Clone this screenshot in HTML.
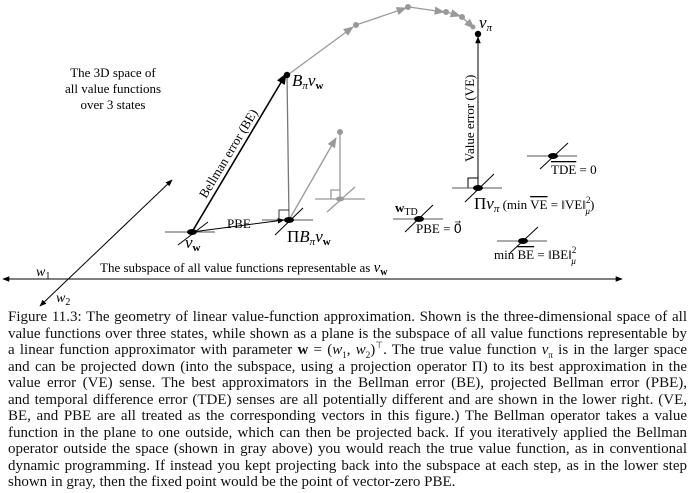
<!DOCTYPE html>
<html><head><meta charset="utf-8"><style>
body{margin:0;background:#fff;width:693px;height:493px;overflow:hidden;position:relative;font-family:"Liberation Serif",serif;}
svg{position:absolute;left:0;top:0}
.cap{position:absolute;left:8px;top:309px;width:679px;font-size:15px;color:#111;}
.cap div{height:16.5px;line-height:16.5px;white-space:nowrap;text-align:justify;text-align-last:justify;}
.cap div.l{text-align-last:left}
.cap sub,.cap sup{font-size:9px;line-height:0}
</style></head><body>
<svg width="693" height="310" viewBox="0 0 693 310" font-family="Liberation Serif, serif">
<defs>
<marker id="a" viewBox="0 0 10 10" refX="9" refY="5" markerWidth="7" markerHeight="7" orient="auto-start-reverse"><path d="M0,1 L10,5 L0,9 z" fill="#000"/></marker>
<marker id="g" viewBox="0 0 10 10" refX="9" refY="5" markerWidth="8" markerHeight="8" orient="auto"><path d="M0,1 L10,5 L0,9 z" fill="#999"/></marker>
</defs>
<line x1="3" y1="279" x2="622" y2="279" stroke="#000" marker-start="url(#a)" marker-end="url(#a)"/>
<line x1="40" y1="306" x2="172" y2="180" stroke="#000" marker-start="url(#a)" marker-end="url(#a)"/>
<text x="36" y="276" font-size="14" font-style="italic">w<tspan font-size="10" font-style="normal" dy="3">1</tspan></text>
<text x="56" y="302" font-size="14" font-style="italic">w<tspan font-size="10" font-style="normal" dy="3">2</tspan></text>
<text x="113" y="77" font-size="13" text-anchor="middle">The 3D space of</text>
<text x="113" y="93" font-size="13" text-anchor="middle">all value functions</text>
<text x="113" y="109" font-size="13" text-anchor="middle">over 3 states</text>
<text x="100" y="272" font-size="13">The subspace of all value functions representable as <tspan font-style="italic" font-size="15">v</tspan><tspan font-weight="bold" font-size="10" dy="3">w</tspan></text>
<g stroke="#999" fill="none" stroke-width="1.3">
<line x1="289" y1="74" x2="353" y2="27" marker-end="url(#g)"/>
<line x1="356" y1="25" x2="406" y2="8" marker-end="url(#g)"/>
<line x1="409" y1="7" x2="444" y2="12" marker-end="url(#g)"/>
<line x1="447" y1="12" x2="460" y2="16" marker-end="url(#g)"/>
<line x1="463" y1="18" x2="474" y2="28" marker-end="url(#g)"/>
<line x1="289" y1="220" x2="336" y2="138" marker-end="url(#g)"/>
<line x1="340" y1="132" x2="340" y2="199"/>
<path d="M331,199 V190 H340"/>
<line x1="315" y1="199" x2="365" y2="199"/>
<line x1="327" y1="212" x2="355" y2="187"/>
</g>
<g fill="#999"><circle cx="356" cy="25" r="3"/><circle cx="408" cy="7" r="3"/><circle cx="446" cy="12" r="3"/><circle cx="462" cy="17" r="3"/><circle cx="473" cy="27" r="2.5"/><circle cx="340" cy="132" r="3"/><ellipse cx="340" cy="199" rx="4" ry="2.5"/></g>
<g stroke="#000" fill="none">
<line x1="287" y1="75" x2="289" y2="220" stroke="#777" stroke-width="1.3"/>
<path d="M279,220 V210 H289" stroke="#333"/>
<line x1="165" y1="232" x2="215" y2="232" stroke="#555"/>
<line x1="178" y1="245" x2="208" y2="222"/>
<line x1="262" y1="220" x2="313" y2="220" stroke="#555"/>
<line x1="275" y1="235" x2="303" y2="208"/>
<line x1="192" y1="232" x2="286" y2="74" stroke-width="1.6" marker-end="url(#a)"/>
<line x1="192" y1="232" x2="284" y2="220" marker-end="url(#a)"/>
<line x1="478" y1="188" x2="478" y2="37" marker-end="url(#a)"/>
<path d="M468,188 V178 H478"/>
<line x1="452" y1="188" x2="502" y2="188" stroke="#555"/>
<line x1="465" y1="202" x2="494" y2="174"/>
<line x1="527" y1="156" x2="577" y2="156" stroke="#555"/>
<line x1="540" y1="169" x2="568" y2="143"/>
<line x1="393" y1="219" x2="443" y2="219" stroke="#555"/>
<line x1="405" y1="232" x2="433" y2="205"/>
<line x1="497" y1="241" x2="547" y2="241" stroke="#555"/>
<line x1="510" y1="253" x2="538" y2="227"/>
</g>
<g fill="#000"><ellipse cx="192" cy="232" rx="5" ry="3"/><ellipse cx="289" cy="220" rx="5" ry="3"/><circle cx="287" cy="75" r="3.2"/><circle cx="478" cy="34" r="3.2"/><ellipse cx="478" cy="188" rx="5" ry="3"/><ellipse cx="553" cy="156" rx="5" ry="3"/><ellipse cx="419" cy="219" rx="5" ry="3"/><ellipse cx="523" cy="241" rx="5" ry="3"/></g>
<text x="292" y="86" font-size="17" font-style="italic">B<tspan font-size="11" dy="3">π</tspan><tspan dy="-3">v</tspan><tspan font-weight="bold" font-size="11" font-style="normal" dy="3">w</tspan></text>
<text x="185" y="248" font-size="17" font-style="italic">v<tspan font-weight="bold" font-size="11" font-style="normal" dy="3">w</tspan></text>
<text x="287" y="242" font-size="17"><tspan>Π</tspan><tspan font-style="italic">B</tspan><tspan font-size="11" font-style="italic" dy="3">π</tspan><tspan font-style="italic" dy="-3">v</tspan><tspan font-weight="bold" font-size="11" dy="3">w</tspan></text>
<text x="227" y="228" font-size="13">PBE</text>
<text font-size="13" transform="translate(206,199) rotate(-59)">Bellman error (BE)</text>
<text x="479" y="28" font-size="17" font-style="italic">v<tspan font-size="11" dy="3">π</tspan></text>
<text font-size="13" transform="translate(474,162) rotate(-90)">Value error (VE)</text>
<text x="474" y="209" font-size="17">Π<tspan font-style="italic">v</tspan><tspan font-size="11" font-style="italic" dy="3">π</tspan><tspan font-size="13" dy="-3"> (min </tspan><tspan font-size="13" text-decoration="overline">VE</tspan><tspan font-size="13"> = ‖VE‖</tspan><tspan font-size="9" dy="-6">2</tspan><tspan font-size="9" font-style="italic" dx="-5" dy="11">μ</tspan><tspan font-size="13" dy="-5">)</tspan></text>
<text x="551" y="174" font-size="13"><tspan text-decoration="overline">TDE</tspan> = 0</text>
<text x="395" y="212" font-size="13" font-weight="bold">w<tspan font-weight="normal" font-size="10" dy="3">TD</tspan></text>
<text x="416" y="233" font-size="13">PBE = 0⃗</text>
<text x="494" y="259" font-size="13">min <tspan text-decoration="overline">BE</tspan> = ‖BE‖<tspan font-size="9" dy="-6">2</tspan><tspan font-size="9" font-style="italic" dx="-5" dy="11">μ</tspan></text>
</svg>
<div class="cap">
<div>Figure 11.3: The geometry of linear value-function approximation. Shown is the three-dimensional space of all</div>
<div>value functions over three states, while shown as a plane is the subspace of all value functions representable by</div>
<div>a linear function approximator with parameter <b>w</b> = (<i>w</i><sub>1</sub>, <i>w</i><sub>2</sub>)<sup>⊤</sup>. The true value function <i>v</i><sub>π</sub> is in the larger space</div>
<div>and can be projected down (into the subspace, using a projection operator Π) to its best approximation in the</div>
<div>value error (VE) sense. The best approximators in the Bellman error (BE), projected Bellman error (PBE),</div>
<div>and temporal difference error (TDE) senses are all potentially different and are shown in the lower right. (VE,</div>
<div>BE, and PBE are all treated as the corresponding vectors in this figure.) The Bellman operator takes a value</div>
<div>function in the plane to one outside, which can then be projected back. If you iteratively applied the Bellman</div>
<div>operator outside the space (shown in gray above) you would reach the true value function, as in conventional</div>
<div>dynamic programming. If instead you kept projecting back into the subspace at each step, as in the lower step</div>
<div class="l">shown in gray, then the fixed point would be the point of vector-zero PBE.</div>
</div>
</body></html>
